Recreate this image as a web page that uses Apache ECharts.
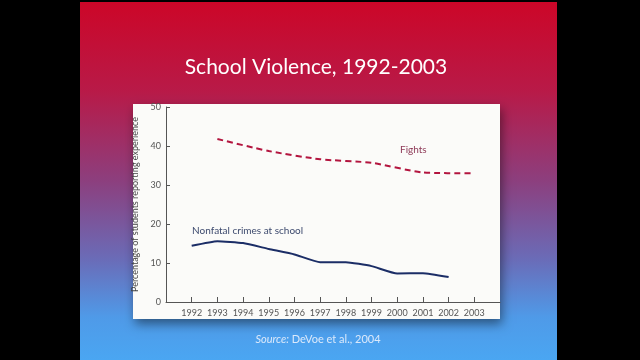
<!DOCTYPE html>
<html><head><meta charset="utf-8">
<script src="https://cdn.jsdelivr.net/npm/echarts@6/dist/echarts.min.js"></script>
<style>html,body{margin:0;padding:0;background:#000;}#c{width:640px;height:360px;}</style>
</head><body><div id="c"></div>
<script>
const years = [1992,1993,1994,1995,1996,1997,1998,1999,2000,2001,2002,2003];
const fightYears = [1993,1995,1997,1999,2001,2003];
const fightValues = [41.8,38.7,36.6,35.7,33.2,33.0];
const crimeYears = [1992,1993,1994,1995,1996,1997,1998,1999,2000,2001,2002];
const crimeValues = [14.4,15.6,15.1,13.6,12.2,10.2,10.2,9.2,7.3,7.4,6.4];
const yTicks = [0,10,20,30,40,50];

const chart = echarts.init(document.getElementById('c'), null, {renderer:'canvas'});
const font = 'Lato, "Open Sans", sans-serif';
chart.setOption({
  backgroundColor:'#000',
  animation:false,
  graphic:[
    {type:'rect', z:-10, shape:{x:80,y:2,width:477,height:358},
     style:{fill:new echarts.graphic.LinearGradient(0,0,0,1,[
       {offset:0,color:'#cc0628'},
       {offset:0.25,color:'#b81a48'},
       {offset:0.5,color:'#8c3f7e'},
       {offset:0.72,color:'#6a6cb8'},
       {offset:0.88,color:'#4f9ae8'},
       {offset:1,color:'#4aa6f2'}])}},
    {type:'rect', z:-5, shape:{x:133,y:104,width:367,height:215},
     style:{fill:'#fbfbf9', shadowBlur:10, shadowOffsetX:2, shadowOffsetY:5, shadowColor:'rgba(0,0,0,0.45)'}},
    {type:'text', x:316, y:67, style:{text:'School Violence, 1992-2003', align:'center', verticalAlign:'middle', fill:'#ffffff', font:'21px '+font}},
    {type:'text', x:318, y:334, style:{text:'{i|Source:} DeVoe et al., 2004', align:'center', fill:'#dbe9fb', font:'11px '+font,
      rich:{i:{fontStyle:'italic', fill:'#dbe9fb', fontSize:11, fontFamily:font}}}},
    {type:'text', x:400, y:145, style:{text:'Fights', fill:'#8e3a58', font:'10px '+font}},
    {type:'text', x:192, y:226, style:{text:'Nonfatal crimes at school', fill:'#3d4a6e', font:'10px '+font}}
  ],
  grid:{left:166, right:140, top:107, bottom:58},
  xAxis:{type:'value', min:1991, max:2004,
    axisLine:{show:true, lineStyle:{color:'#555', width:1}},
    axisTick:{show:true, inside:true, length:5, customValues:years, lineStyle:{color:'#555'}},
    axisLabel:{customValues:years, formatter:(v)=>String(v), color:'#555', fontSize:9, fontFamily:font, margin:7},
    splitLine:{show:false}},
  yAxis:{type:'value', min:0, max:50, interval:10,
    name:'Percentage of students reporting experience', nameLocation:'middle', nameGap:26,
    nameTextStyle:{color:'#444', fontSize:9, fontFamily:font},
    axisLine:{show:true, lineStyle:{color:'#555', width:1}},
    axisTick:{show:true, inside:true, length:4, lineStyle:{color:'#555'}},
    axisLabel:{color:'#555', fontSize:9, fontFamily:font, margin:5, customValues:yTicks},
    splitLine:{show:false}},
  series:[
    {type:'line', data:fightYears.map((y,i)=>[y,fightValues[i]]), symbol:'none', smooth:0.2,
     lineStyle:{color:'#b3153f', width:2, type:[6,4]}},
    {type:'line', data:crimeYears.map((y,i)=>[y,crimeValues[i]]), symbol:'none', smooth:0.15,
     lineStyle:{color:'#1b2d66', width:2}}
  ]
});
</script></body></html>
